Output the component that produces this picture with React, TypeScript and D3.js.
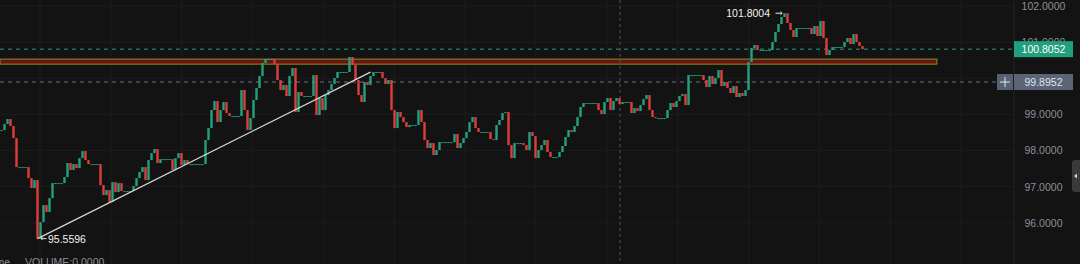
import React, { useEffect } from 'react';
import * as d3 from 'd3';

const W = 1080;
const H = 264;

// closing prices, one per bar (open = previous close)
const closes: number[] = [
  98.565, 98.731, 98.870, 98.676, 98.343, 97.540, 97.540, 97.540, 97.540, 97.235,
  96.959, 97.180, 95.5596, 96.016, 96.487, 96.293, 96.681, 97.097, 97.097, 97.097,
  97.097, 97.263, 97.651, 97.457, 97.623, 97.512, 97.789, 97.983, 97.734, 97.623,
  97.623, 97.623, 97.623, 97.041, 96.764, 96.903, 96.570, 97.124, 96.848, 97.097,
  96.875, 96.875, 96.875, 96.875, 97.014, 97.235, 97.401, 97.540, 97.180, 97.734,
  97.928, 98.039, 97.651, 97.762, 97.762, 97.762, 97.762, 97.457, 97.789, 97.928,
  97.595, 97.734, 97.623, 97.623, 97.623, 97.623, 97.623, 97.623, 98.288, 98.620,
  99.119, 99.368, 98.786, 99.119, 99.341, 99.036, 98.953, 98.953, 98.953, 98.953,
  99.673, 99.119, 98.565, 98.897, 99.396, 99.728, 100.061, 100.421, 100.532, 100.532,
  100.532, 100.393, 99.950, 99.673, 99.811, 99.507, 100.061, 100.282, 99.064, 99.617,
  99.507, 99.507, 99.507, 99.507, 100.088, 98.980, 99.451, 99.119, 99.534, 99.673,
  99.839, 100.005, 100.172, 100.172, 100.172, 100.172, 100.587, 100.365, 99.950, 99.534,
  99.341, 99.894, 99.811, 100.061, 100.172, 100.172, 100.172, 100.005, 99.839, 99.950,
  99.119, 98.620, 99.064, 98.925, 98.786, 98.648, 98.704, 98.704, 98.704, 99.119,
  98.786, 98.288, 98.066, 98.205, 97.872, 98.011, 98.232, 98.232, 98.232, 98.232,
  98.232, 98.454, 98.066, 98.205, 98.343, 98.510, 98.786, 98.925, 98.620, 98.510,
  98.510, 98.510, 98.510, 98.316, 98.288, 98.704, 98.842, 99.036, 99.064, 98.149,
  97.789, 98.205, 98.205, 98.205, 98.149, 98.011, 98.510, 98.399, 97.789, 98.011,
  98.149, 98.288, 97.956, 97.817, 97.817, 97.817, 97.956, 98.122, 98.371, 98.565,
  98.510, 98.676, 98.925, 99.202, 99.313, 99.313, 99.313, 99.313, 99.313, 99.119,
  99.008, 99.341, 99.451, 99.119, 99.368, 99.451, 99.285, 99.341, 99.341, 99.341,
  99.036, 99.174, 99.091, 99.257, 99.424, 99.534, 99.119, 98.925, 98.897, 98.897,
  98.897, 98.897, 99.119, 99.313, 99.202, 99.368, 99.507, 99.562, 99.257, 100.088,
  100.088, 100.088, 100.088, 100.088, 99.950, 99.756, 100.061, 99.839, 100.005, 100.227,
  99.784, 99.894, 99.728, 99.590, 99.784, 99.479, 99.590, 99.507, 99.673, 100.449,
  100.836, 100.919, 100.781, 100.781, 100.781, 100.781, 100.781, 101.003, 101.280, 101.501,
  101.695, 101.8004, 101.529, 101.335, 101.141, 101.390, 101.390, 101.390, 101.390, 101.390,
  101.224, 101.446, 101.169, 101.584, 101.113, 100.642, 100.781, 100.864, 100.864, 100.864,
  100.864, 101.003, 101.113, 100.947, 101.224, 101.003, 100.892, 100.8052,
];

const yTicks: number[] = [96, 97, 98, 99, 100, 101, 102];
const lastPrice = 100.8052;
const markPrice = 99.8952;
const highPrice = 101.8004;
const highIndex = 261;
const lowPrice = 95.5596;
const lowIndex = 12;
const bandPrices: number[] = [100.53, 100.39];
const bandEndIndex = 311.8;
const trendIdx: number[] = [12, 123];
const trendPrice: number[] = [95.5596, 100.17];
const crossIndex = 206.2;

const GREEN = '#23a17f';
const RED = '#dd3f3d';
const FONT = '"Liberation Sans", Arial, sans-serif';

export default function App() {
  useEffect(() => {
    document.body.style.margin = '0';
    document.body.style.background = '#131313';
  }, []);

  const x = d3.scaleLinear().domain([0, closes.length - 1]).range([1.5, 862.5]);
  const y = d3.scaleLinear().domain([96, 102]).range([222.7, 6]);
  const step = x(1) - x(0);
  const bw = step * 0.8;
  const plotRight = 1014;

  const fmt = d3.format('.4f');
  const vGrid = d3.range(0, 14).map((k) => 40 + k * 70.85);

  const candles = closes.map((c, i) => {
    const o = i === 0 ? c : closes[i - 1];
    const top = y(Math.max(o, c));
    const bot = y(Math.min(o, c));
    return { i, o, c, top, h: Math.max(1, bot - top), up: c >= o };
  });

  const line = d3.line<[number, number]>().x((d) => x(d[0])).y((d) => y(d[1]));
  const trendPath = line([
    [trendIdx[0], trendPrice[0]],
    [trendIdx[1], trendPrice[1]],
  ]);

  const yLast = y(lastPrice);
  const yMark = y(markPrice);
  const yHigh = y(highPrice);
  const yLow = y(lowPrice);
  const xHigh = x(highIndex);
  const xLow = x(lowIndex);

  return (
    <svg width={W} height={H} style={{ display: 'block', background: '#131313' }} fontFamily={FONT}>
      <rect x={0} y={0} width={W} height={H} fill="#131313" />
      {/* grid */}
      {yTicks.map((t) => (
        <line key={'hg' + t} x1={0} x2={plotRight} y1={y(t)} y2={y(t)} stroke="#1d1d1f" strokeWidth={1} />
      ))}
      {vGrid.map((gx, k) => (
        <line key={'vg' + k} x1={gx} x2={gx} y1={0} y2={H} stroke="#1d1d1f" strokeWidth={1} />
      ))}
      <line x1={plotRight} x2={plotRight} y1={0} y2={H} stroke="#222226" strokeWidth={1} />

      {/* band rectangle */}
      <rect
        x={0}
        y={y(bandPrices[0])}
        width={x(bandEndIndex)}
        height={y(bandPrices[1]) - y(bandPrices[0])}
        fill="#6a1417"
        stroke="#83911c"
        strokeWidth={1}
      />

      {/* dashed price lines */}
      <line x1={0} x2={plotRight} y1={yLast} y2={yLast} stroke={GREEN} strokeWidth={1} strokeDasharray="4 4" />
      <line x1={0} x2={997} y1={yMark} y2={yMark} stroke="#6b7383" strokeWidth={1} strokeDasharray="4 4" />

      {/* crosshair */}
      <line x1={x(crossIndex)} x2={x(crossIndex)} y1={0} y2={H} stroke="#555559" strokeWidth={1} strokeDasharray="3 3" />

      {/* candles */}
      {candles.map((d) => (
        <rect
          key={'c' + d.i}
          x={x(d.i) - bw / 2}
          y={d.top}
          width={bw}
          height={d.h}
          fill={d.up ? GREEN : RED}
        />
      ))}

      {/* trend line */}
      <path d={trendPath || ''} stroke="#d8d8d8" strokeWidth={1.2} fill="none" />

      {/* high / low annotations */}
      <text x={770} y={yHigh} dominantBaseline="central" textAnchor="end" fill="#f2f2f2" fontSize={10.5}>
        {fmt(highPrice)}
      </text>
      <path d={`M${xHigh - 9},${yHigh} L${xHigh - 4},${yHigh}`} stroke="#e6e6e6" strokeWidth={1} />
      <path d={`M${xHigh - 4},${yHigh - 2} L${xHigh - 2},${yHigh} L${xHigh - 4},${yHigh + 2} Z`} fill="#e6e6e6" />

      <path d={`M${xLow + 5},${yLow} L${xLow + 9},${yLow}`} stroke="#e6e6e6" strokeWidth={1} />
      <path d={`M${xLow + 5},${yLow - 2} L${xLow + 3},${yLow} L${xLow + 5},${yLow + 2} Z`} fill="#e6e6e6" />
      <text x={48} y={yLow} dominantBaseline="central" fill="#f2f2f2" fontSize={10.5}>
        {fmt(lowPrice)}
      </text>

      {/* axis labels */}
      {yTicks.map((t) => (
        <text key={'yt' + t} x={1043.5} y={y(t)} dominantBaseline="central" textAnchor="middle" fill="#8b8f97" fontSize={10.5}>
          {fmt(t)}
        </text>
      ))}

      {/* last price box */}
      <rect x={plotRight} y={yLast - 8} width={59} height={16} fill="#22a07d" />
      <text x={1043.5} y={yLast} dominantBaseline="central" textAnchor="middle" fill="#ffffff" fontSize={10.5}>
        {fmt(lastPrice)}
      </text>

      {/* mark price box with plus button */}
      <rect x={997} y={yMark - 8} width={16} height={16} fill="#566273" />
      <path d={`M${1005},${yMark - 5} L${1005},${yMark + 5} M${1000},${yMark} L${1010},${yMark}`} stroke="#e4e8ee" strokeWidth={1} />
      <rect x={plotRight} y={yMark - 8} width={59} height={16} fill="#5a6678" />
      <text x={1043.5} y={yMark} dominantBaseline="central" textAnchor="middle" fill="#dde2ea" fontSize={10.5}>
        {fmt(markPrice)}
      </text>

      {/* right side tab */}
      <rect x={1072} y={160} width={10} height={32} rx={3} fill="#3a3a3c" />
      <path d="M1074,176 L1077,173.5 L1077,178.5 Z" fill="#d0d0d0" />

      {/* bottom volume caption */}
      <text x={10} y={266} textAnchor="end" fill="#8b8f97" fontSize={10.5}>Volume</text>
      <text x={25} y={266} fill="#8b8f97" fontSize={10.5}>VOLUME:0.0000</text>
    </svg>
  );
}
